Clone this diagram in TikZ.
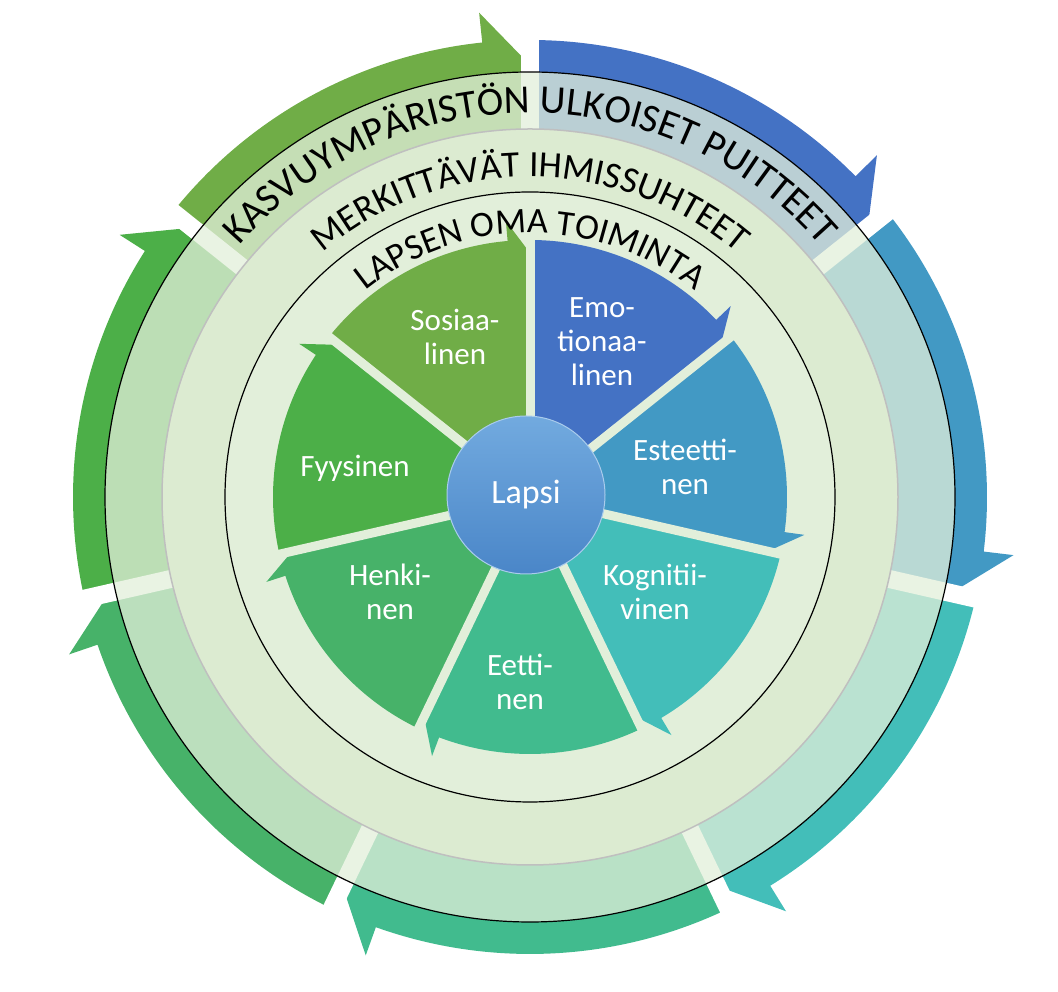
\documentclass[tikz,border=0pt]{standalone}
\usepackage{fontspec}
\setmainfont{Carlito}
\usetikzlibrary{decorations.text}
\definecolor{c0}{HTML}{4472C4}
\definecolor{c1}{HTML}{4299C4}
\definecolor{c2}{HTML}{43BEB9}
\definecolor{c3}{HTML}{41BB8E}
\definecolor{c4}{HTML}{47B269}
\definecolor{c5}{HTML}{4CAF48}
\definecolor{c6}{HTML}{70AD47}
\definecolor{pale}{HTML}{E2EFDA}
\definecolor{ring}{HTML}{DCEBD1}
\definecolor{ltop}{HTML}{72AADF}
\definecolor{lbot}{HTML}{4A86C8}
\tikzset{
  lbl/.style={text=white,align=center,font=\fontsize{31}{34}\selectfont},
  ringtext/.style={decorate,decoration={text along path,text align=center,text={#1}}}
}
\begin{document}
\begin{tikzpicture}[x=1pt,y=1pt]
\useasboundingbox (0,0) rectangle (1058,992);
\begin{scope}[shift={(530,495)}]
% outer arrow blocks
\foreach \k/\c in {0/c0,1/c1,2/c2,3/c3,4/c4,5/c5,6/c6}{
  \pgfmathsetmacro\s{90-51.4286*\k}
  \pgfmathsetmacro\e{\s-51.4286}
  \pgfmathsetmacro\eh{\e+6}
  \fill[\c] (\s:368) -- (\s:457) arc[start angle=\s,end angle=\eh,radius=457]
     -- (\eh:487) -- (\e:432) -- (\e:368) arc[start angle=\e,end angle=\s,radius=368] -- cycle;
}
\foreach \k in {0,...,6}{
  \pgfmathsetmacro\b{90-51.4286*\k}
  \draw[white,line width=18] (\b:355) -- (\b:500);
}
\fill[pale,opacity=0.75] (0,0) circle[radius=425];
\draw[black,line width=1.2] (0,0) circle[radius=425];
\filldraw[fill=ring,draw=gray!50,line width=1.5] (0,0) circle[radius=368];
\filldraw[fill=pale,draw=black,line width=1.2] (0,0) circle[radius=305];
% inner sectors
\foreach \k/\c in {0/c0,1/c1,2/c2,3/c3,4/c4,5/c5,6/c6}{
  \pgfmathsetmacro\s{90-51.4286*\k}
  \pgfmathsetmacro\e{\s-51.4286}
  \pgfmathsetmacro\eh{\e+5}
  \fill[\c] (0,0) -- (\s:257) arc[start angle=\s,end angle=\eh,radius=257]
     -- (\eh:277) -- (\e:244) -- cycle;
}
\foreach \k in {0,...,6}{
  \pgfmathsetmacro\b{90-51.4286*\k}
  \draw[pale,line width=9] (0,0) -- (\b:300);
}
% ring texts
\path[ringtext={|\fontsize{40}{40}\selectfont|KASVUYMPÄRISTÖN ULKOISET PUITTEET}]
  (175:384) arc[start angle=175,end angle=5,radius=384];
\path[ringtext={|\fontsize{37}{37}\selectfont|MERKITTÄVÄT IHMISSUHTEET}]
  (175:320) arc[start angle=175,end angle=5,radius=320];
\path[ringtext={|\fontsize{36}{36}\selectfont|LAPSEN OMA TOIMINTA}]
  (175:264) arc[start angle=175,end angle=5,radius=264];
% labels
\node[lbl] (sos) at (-75,160) {Sosiaa-\\linen};
\node[lbl] (emo) at (72,155) {Emo-\\tionaa-\\linen};
\node[lbl] (est) at (155,30) {Esteetti-\\nen};
\node[lbl] (kog) at (125,-95) {Kognitii-\\vinen};
\node[lbl] (eet) at (-10,-185) {Eetti-\\nen};
\node[lbl] (hen) at (-140,-95) {Henki-\\nen};
\node[lbl] (fyy) at (-175,29) {Fyysinen};
\node[circle,minimum size=158,draw=ltop!60!white,line width=1,
      top color=ltop,bottom color=lbot,
      text=white,font=\fontsize{34}{34}\selectfont] (lapsi) at (-4,2) {Lapsi};
\end{scope}
\end{tikzpicture}
\end{document}
